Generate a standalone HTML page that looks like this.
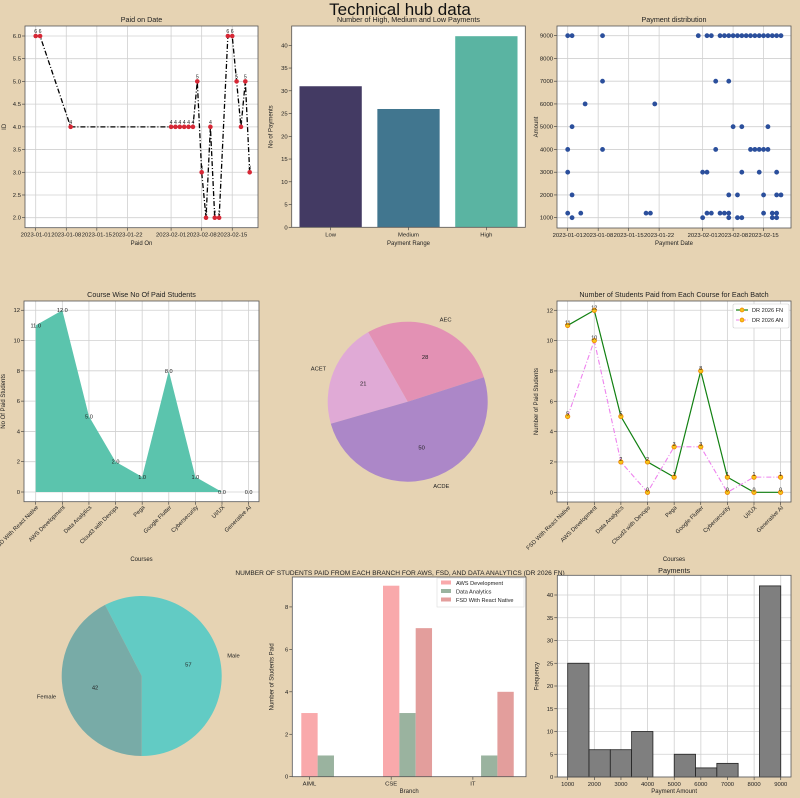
<!DOCTYPE html>
<html><head><meta charset="utf-8"><style>
html,body{margin:0;padding:0;background:#e6d3b3;}
svg{display:block;font-family:"Liberation Sans","DejaVu Sans",sans-serif;}
</style></head><body>
<svg id="fig" width="800" height="798" viewBox="0 0 800 798">
<rect x="0" y="0" width="800" height="798" fill="#e6d3b3"/>
<text x="400" y="15" font-size="17" text-anchor="middle" fill="#111">Technical hub data</text>
</svg>
<script>
// ---------- data ----------
const paidDays=[0,1,8,31,32,33,34,35,36,37,38,39,40,41,42,44,45,46,47,48,49];
const paidIds=[6,6,4,4,4,4,4,4,4,5,3,2,4,2,2,6,6,5,4,5,3];
const dateTickDays=[0,7,14,21,31,38,45];
const dateTickLabels=['2023-01-01','2023-01-08','2023-01-15','2023-01-22','2023-02-01','2023-02-08','2023-02-15'];
const rangeCats=['Low','Medium','High'];
const rangeCounts=[31,26,42];
const scatterDays=[0,0,0,0,1,1,1,1,3,4,8,8,8,18,19,20,30,31,31,32,32,32,33,33,34,34,35,35,36,36,37,37,37,37,37,38,38,39,39,39,40,40,40,40,41,42,42,43,43,44,44,44,45,45,45,45,46,46,46,47,47,47,48,48,48,48,48,49,49];
const scatterAmounts=[9000,4000,3000,1200,9000,5000,2000,1000,1200,6000,9000,7000,4000,1200,1200,6000,9000,3000,1000,9000,3000,1200,9000,1200,7000,4000,9000,1200,9000,1200,9000,7000,2000,1200,1000,9000,5000,9000,2000,1000,9000,5000,3000,1000,9000,9000,4000,9000,4000,9000,4000,3000,9000,4000,2000,1200,9000,5000,4000,9000,1200,1000,9000,3000,2000,1200,1000,9000,2000];
const courses=['FSD With React Native','AWS Development','Data Analytics','Cloud3 with Devops','Pega','Google Flutter','Cybersecurity','UI/UX','Generative AI'];
const courseTotals=[11,12,5,2,1,8,1,0,0];
const batchFN=[11,12,5,2,1,8,1,0,0];
const batchAN=[5,10,2,0,3,3,0,1,1];
const collegeLabels=['AEC','ACET','ACDE'];
const collegeCounts=[28,21,50];
const genderLabels=['Male','Female'];
const genderCounts=[57,42];
const branches=['AIML','CSE','IT'];
const awsByBranch=[3,9,0];
const daByBranch=[1,3,1];
const fsdByBranch=[0,7,4];
const histEdges=[1000,1800,2600,3400,4200,5000,5800,6600,7400,8200,9000];
const histCounts=[25,6,6,10,0,5,2,3,0,42];

// ---------- helpers ----------
const NS='http://www.w3.org/2000/svg';
const svg=document.getElementById('fig');
function E(tag,a,p){const e=document.createElementNS(NS,tag);for(const k in a)e.setAttribute(k,a[k]);(p||svg).appendChild(e);return e;}
function lin(d0,d1,r0,r1){return v=>r0+(v-d0)*(r1-r0)/(d1-d0);}
function txt(p,x,y,s,size,anchor,extra){const t=E('text',Object.assign({x:x,y:y,'font-size':size||6,'text-anchor':anchor||'middle',fill:'#222'},extra||{}),p);t.textContent=s;return t;}
function group(name){const g=E('g',{});return g;}
function frame(g,b,xt,yt,xs,ys,grid,opts){
  opts=opts||{};
  E('rect',{x:b.l,y:b.t,width:b.r-b.l,height:b.b-b.t,fill:'#fff'},g);
  const gl=group('grid-lines');g.appendChild(gl);
  if(grid){xt.forEach(v=>E('line',{x1:xs(v[0]),x2:xs(v[0]),y1:b.t,y2:b.b,stroke:'#d0d0d0','stroke-width':0.8},gl));
    yt.forEach(v=>E('line',{x1:b.l,x2:b.r,y1:ys(v[0]),y2:ys(v[0]),stroke:'#d0d0d0','stroke-width':0.8},gl));}
  const xa=group('x-axis');g.appendChild(xa);
  xt.forEach(v=>{const x=xs(v[0]);E('line',{x1:x,x2:x,y1:b.b,y2:b.b+3,stroke:'#333','stroke-width':0.6},xa);
    if(opts.rot){const t=txt(xa,x+3,b.b+6,v[1],5.8,'end');t.setAttribute('transform','rotate(-45 '+(x+3)+' '+(b.b+6)+')');}
    else txt(xa,x,b.b+9,v[1],5.9);});
  const ya=group('y-axis');g.appendChild(ya);
  yt.forEach(v=>{const y=ys(v[0]);E('line',{x1:b.l-3,x2:b.l,y1:y,y2:y,stroke:'#333','stroke-width':0.6},ya);txt(ya,b.l-4,y+2,v[1],5.9,'end');});
}
function border(g,b){E('rect',{x:b.l,y:b.t,width:b.r-b.l,height:b.b-b.t,fill:'none',stroke:'#555','stroke-width':0.8},g);}
function labels(g,b,title,xl,yl,xly){
  const t=txt(g,(b.l+b.r)/2,b.t-4,title,7.2);
  const x=txt(g,(b.l+b.r)/2,xly,xl,6);
  const yx=b.l-19,yy=(b.t+b.b)/2;const y=txt(g,yx,yy,yl,6,'middle',{transform:'rotate(-90 '+yx+' '+yy+')'});
  
}
function range(a,b,s){const r=[];for(let v=a;v<=b+1e-9;v+=s)r.push(v);return r;}

// ---------- chart 1: paid on date ----------
(function(){
  const g=group('paid-on-date-chart');
  const b={l:25,t:26,r:258,b:227.7};
  const xs=lin(-2.45,50.9,b.l,b.r),ys=lin(1.78,6.22,b.b,b.t);
  frame(g,b,dateTickDays.map((d,i)=>[d,dateTickLabels[i]]),range(2,6,0.5).map(v=>[v,v.toFixed(1)]),xs,ys,true);
  const pts=paidDays.map((d,i)=>xs(d)+','+ys(paidIds[i])).join(' ');
  const line=E('polyline',{points:pts,fill:'none',stroke:'#000','stroke-width':1.3,'stroke-dasharray':'5,2,1,2'},g);
  
  
  paidDays.forEach((d,i)=>{
    const c=E('circle',{cx:xs(d),cy:ys(paidIds[i]),r:2.3,fill:'#d62735'},g);
    
    
    txt(g,xs(d),ys(paidIds[i])-3,String(paidIds[i]),5.2);
  });
  border(g,b);
  labels(g,b,'Paid on Date','Paid On','ID',245);
})();

// ---------- chart 2: payment range bars ----------
(function(){
  const g=group('payment-range-chart');
  const b={l:291.7,t:26,r:525.3,b:227.3};
  const xs=lin(-0.5,2.5,b.l,b.r),ys=lin(0,44.24,b.b,b.t);
  frame(g,b,rangeCats.map((c,i)=>[i,c]),range(0,40,5).map(v=>[v,String(v)]),xs,ys,false);
  const cols=['#433a63','#41768f','#5ab4a2'];
  rangeCounts.forEach((v,i)=>{
    const r=E('rect',{x:xs(i-0.4),y:ys(v),width:xs(0.4)-xs(-0.4),height:ys(0)-ys(v),fill:cols[i]},g);
    
    
  });
  border(g,b);
  labels(g,b,'Number of High, Medium and Low Payments','Payment Range','No of Payments',245);
})();

// ---------- chart 3: scatter ----------
(function(){
  const g=group('payment-distribution-chart');
  const b={l:557,t:26,r:791,b:228};
  const xs=lin(-2.46,51.3,b.l,b.r),ys=lin(547,9426,b.b,b.t);
  frame(g,b,dateTickDays.map((d,i)=>[d,dateTickLabels[i]]),range(1000,9000,1000).map(v=>[v,String(v)]),xs,ys,true);
  scatterDays.forEach((d,i)=>{
    const c=E('circle',{cx:xs(d),cy:ys(scatterAmounts[i]),r:2.4,fill:'#2b4f9c'},g);
    
    
  });
  border(g,b);
  labels(g,b,'Payment distribution','Payment Date','Amount',245);
})();

// ---------- chart 4: area ----------
(function(){
  const g=group('course-wise-area-chart');
  const b={l:24,t:301,r:259,b:501.7};
  const xs=lin(-0.44,8.39,b.l,b.r),ys=lin(-0.64,12.61,b.b,b.t);
  frame(g,b,courses.map((c,i)=>[i,c]),range(0,12,2).map(v=>[v,String(v)]),xs,ys,true,{rot:true});
  let d='M'+xs(0)+','+ys(0);
  courseTotals.forEach((v,i)=>{d+=' L'+xs(i)+','+ys(v);});
  d+=' L'+xs(courseTotals.length-1)+','+ys(0)+' Z';
  const a=E('path',{d:d,fill:'#5bc4ad'},g);
  
  
  courseTotals.forEach((v,i)=>txt(g,xs(i),ys(v)+2,v.toFixed(1),5.6));
  border(g,b);
  labels(g,b,'Course Wise No Of Paid Students','Courses','No Of Paid Students',561);
})();

// ---------- pie helper ----------
function pie(name,cx,cy,r,vals,labs,cols,start){
  const g=group(name);
  const tot=vals.reduce((a,c)=>a+c,0);let ang=start;
  vals.forEach((v,i)=>{
    const a1=ang,a2=ang+v/tot*360;ang=a2;
    const p=t=>[cx+r*Math.cos(t*Math.PI/180),cy-r*Math.sin(t*Math.PI/180)];
    const s=p(a1),e=p(a2);const large=(a2-a1)>180?1:0;
    const w=E('path',{d:'M'+cx+','+cy+' L'+s[0]+','+s[1]+' A'+r+','+r+' 0 '+large+' 0 '+e[0]+','+e[1]+' Z',fill:cols[i]},g);
    
    
    const m=(a1+a2)/2*Math.PI/180;
    const lx=cx+1.1*r*Math.cos(m),ly=cy-1.1*r*Math.sin(m);
    txt(g,lx,ly+2,labs[i],5.8,Math.cos(m)>=0?'start':'end');
    txt(g,cx+0.6*r*Math.cos(m),cy-0.6*r*Math.sin(m)+2,String(v),5.8);
  });
}
pie('college-pie-chart',407.7,401.7,80,collegeCounts,collegeLabels,['#e391b4','#e0aad6','#ac87c8'],17.8);
pie('gender-pie-chart',141.7,676,80,genderCounts,genderLabels,['#62cbc4','#78aba7'],-90);

// ---------- chart 6: batch lines ----------
(function(){
  const g=group('batch-line-chart');
  const b={l:557,t:301,r:791,b:502};
  const xs=lin(-0.40,8.39,b.l,b.r),ys=lin(-0.64,12.61,b.b,b.t);
  frame(g,b,courses.map((c,i)=>[i,c]),range(0,12,2).map(v=>[v,String(v)]),xs,ys,true,{rot:true});
  const l1=E('polyline',{points:batchFN.map((v,i)=>xs(i)+','+ys(v)).join(' '),fill:'none',stroke:'#118011','stroke-width':1.2},g);
  
  
  const l2=E('polyline',{points:batchAN.map((v,i)=>xs(i)+','+ys(v)).join(' '),fill:'none',stroke:'#ee82ee','stroke-width':1.1,'stroke-dasharray':'5,2,1,2'},g);
  
  
  [batchFN,batchAN].forEach(arr=>arr.forEach((v,i)=>{
    const c=E('circle',{cx:xs(i),cy:ys(v),r:2.2,fill:'#f5c518',stroke:'#f08000','stroke-width':0.8},g);
    
    
    txt(g,xs(i),ys(v)-1,String(v),5.4);
  }));
  const lg=group('legend');g.appendChild(lg);
  E('rect',{x:733,y:304,width:56,height:24,fill:'#fff',stroke:'#ccc','stroke-width':0.6,rx:1.5},lg);
  E('line',{x1:736,x2:748,y1:310,y2:310,stroke:'#118011','stroke-width':1.2},lg);
  E('circle',{cx:742,cy:310,r:2,fill:'#f5c518',stroke:'#f08000','stroke-width':0.7},lg);
  txt(lg,752,312,'DR 2026 FN',5.6,'start');
  E('line',{x1:736,x2:748,y1:320,y2:320,stroke:'#ee82ee','stroke-width':1.1,'stroke-dasharray':'3,1.5,1,1.5'},lg);
  E('circle',{cx:742,cy:320,r:2,fill:'#f5c518',stroke:'#f08000','stroke-width':0.7},lg);
  txt(lg,752,322,'DR 2026 AN',5.6,'start');
  border(g,b);
  labels(g,b,'Number of Students Paid from Each Course for Each Batch','Courses','Number of Paid Students',561);
})();

// ---------- chart 8: grouped bars ----------
(function(){
  const g=group('branch-grouped-bar-chart');
  const b={l:292.3,t:577,r:526,b:776.7};
  const xs=lin(-0.21,2.65,b.l,b.r),ys=lin(0,9.41,b.b,b.t);
  frame(g,b,branches.map((c,i)=>[i,c]),range(0,8,2).map(v=>[v,String(v)]),xs,ys,false);
  const series=[awsByBranch,daByBranch,fsdByBranch];
  const names=['aws-development','data-analytics','fsd-with-react-native'];
  const cols=['#f9a9ab','#9ab39f','#e39e9c'];
  series.forEach((arr,j)=>arr.forEach((v,i)=>{
    const x0=xs(i-0.1+j*0.2);
    const r=E('rect',{x:x0,y:ys(v),width:xs(0.2)-xs(0),height:ys(0)-ys(v),fill:cols[j]},g);
    
    
  }));
  const lg=group('legend');g.appendChild(lg);
  E('rect',{x:437,y:578,width:87,height:29,fill:'#fff',stroke:'#ddd','stroke-width':0.6},lg);
  ['AWS Development','Data Analytics','FSD With React Native'].forEach((n,j)=>{
    E('rect',{x:441,y:580.5+j*8.5,width:10,height:4,fill:cols[j]},lg);
    txt(lg,456,585+j*8.5,n,5.6,'start');
  });
  border(g,b);
  labels(g,b,'','Branch','Number of Students Paid',793);
  const t=txt(g,400,575,'NUMBER OF STUDENTS PAID FROM EACH BRANCH FOR AWS, FSD, AND DATA ANALYTICS (DR 2026 FN)',6.6);
  
  
})();

// ---------- chart 9: histogram ----------
(function(){
  const g=group('payments-histogram');
  const b={l:557.3,t:575.3,r:791,b:777};
  const xs=lin(609.5,9385,b.l,b.r),ys=lin(0,44.33,b.b,b.t);
  frame(g,b,range(1000,9000,1000).map(v=>[v,String(v)]),range(0,40,5).map(v=>[v,String(v)]),xs,ys,true);
  histCounts.forEach((v,i)=>{
    if(!v)return;
    const r=E('rect',{x:xs(histEdges[i]),y:ys(v),width:xs(histEdges[i+1])-xs(histEdges[i]),height:ys(0)-ys(v),fill:'#7f7f7f',stroke:'#222','stroke-width':0.8},g);
    
    
  });
  border(g,b);
  labels(g,b,'','Payment Amount','Frequency',793);
  const t=txt(g,(b.l+b.r)/2,573,'Payments',7.2);
  
  
})();
</script>
</body></html>
